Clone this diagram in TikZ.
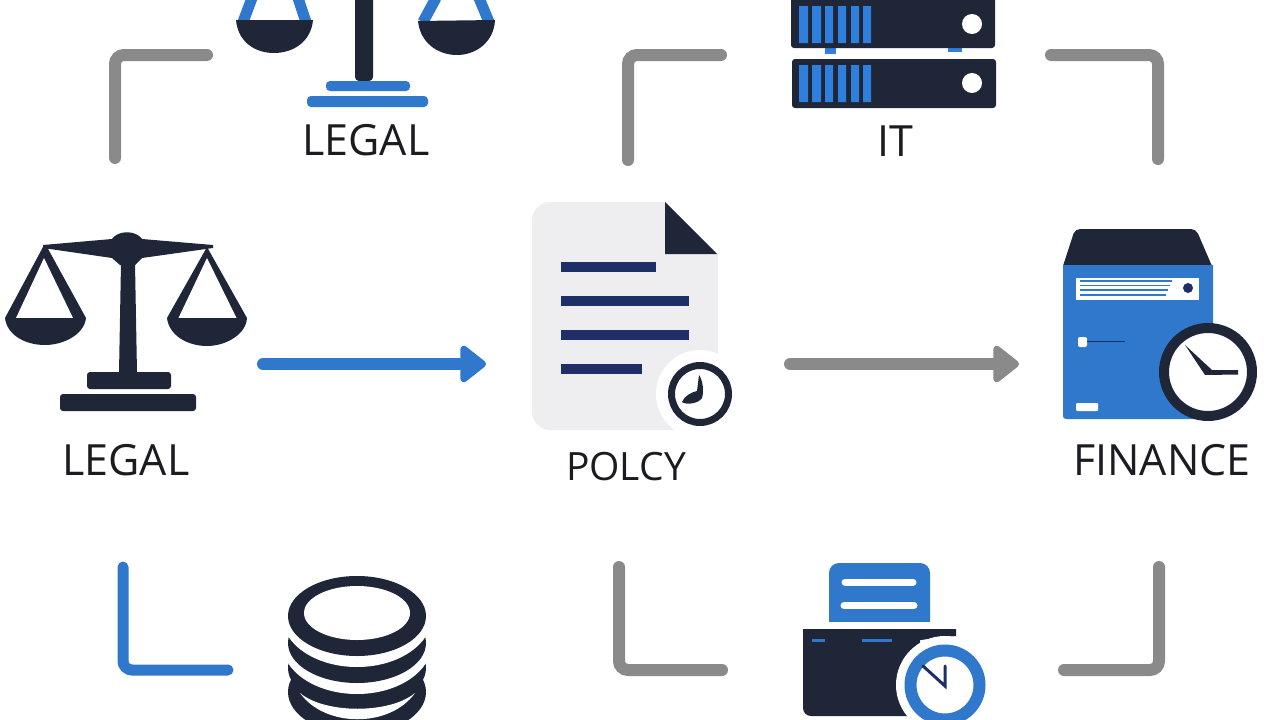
\documentclass[tikz,border=0pt]{standalone}
\usepackage{fontspec}
\setmainfont{Open Sans}
\usetikzlibrary{arrows.meta}
\definecolor{inkdark}{HTML}{1F2638}
\definecolor{captionink}{HTML}{1A1C22}
\definecolor{iconblue}{HTML}{2F78CC}
\definecolor{barblue}{HTML}{2E80DC}
\definecolor{linegray}{HTML}{8A8A8A}
\definecolor{pagegray}{HTML}{EEEEF0}
\definecolor{textnavy}{HTML}{1D2F66}
\tikzset{
    captext/.style={inner sep=0pt, text=captionink, font=\fontsize{39}{40}\selectfont},
    capwide/.style={inner sep=0pt, text=captionink, font=\fontsize{43}{44}\selectfont},
    bracketgray/.style={draw=linegray, line width=12pt, line cap=round, rounded corners=9pt},
    bracketblue/.style={draw=iconblue, line width=11pt, line cap=round, rounded corners=9pt},
    flowblue/.style={draw=iconblue, line width=12pt, line cap=round, -{Triangle[length=28pt,width=42pt,round]}},
    flowgray/.style={draw=linegray, line width=12pt, line cap=round, -{Triangle[length=28pt,width=42pt,round]}},
    rodblue/.style={draw=iconblue, line width=11pt},
    doctext/.style={draw=textnavy, line width=9.5pt}
}
\begin{document}
\begin{tikzpicture}[x=1pt,y=-1pt]
    \path[use as bounding box, clip] (0,0) rectangle (1280,720);
    \fill[white] (0,0) rectangle (1280,720);

    \draw[rodblue] (252,-2) -- (243,22);
    \draw[rodblue] (298,-2) -- (306,22);
    \draw[rodblue] (436,-2) -- (423,22);
    \draw[rodblue] (479,-2) -- (489,22);
    \fill[inkdark] (236,20) -- (313,20) .. controls (311,42) and (293,53) .. (274,53) .. controls (255,53) and (238,42) .. (236,20) -- cycle;
    \fill[inkdark] (418,21) -- (495,20) .. controls (494,42) and (476,55) .. (457,55) .. controls (437,55) and (420,42) .. (418,21) -- cycle;
    \fill[inkdark, rounded corners=4pt] (355,-10) rectangle (373,81);
    \fill[iconblue, rounded corners=4pt] (326,81) rectangle (410,91);
    \fill[iconblue, rounded corners=4pt] (307,96) rectangle (428,107);
    \node[capwide] (legaltop) at (366,140) {LEGAL};

    \fill[inkdark] (43,247) -- (5,318) -- (86,318) -- (47,247) -- cycle;
    \fill[white] (44,258) -- (16,318) -- (73,318) -- cycle;
    \fill[inkdark] (207,247) -- (167,318) -- (247,318) -- cycle;
    \fill[white] (207,258) -- (178,319) -- (237,319) -- cycle;
    \fill[inkdark] (5,318) -- (86,318) .. controls (84,335) and (63,345) .. (45,345) .. controls (25,345) and (7,335) .. (5,318) -- cycle;
    \fill[inkdark] (167,318) -- (247,318) .. controls (246,335) and (225,346) .. (207,346) .. controls (187,346) and (169,335) .. (167,318) -- cycle;
    \fill[inkdark] (43,245) -- (112,239) .. controls (118,230) and (136,230) .. (142,239) -- (213,245) -- (213,248) -- (142,258) -- (135,265) -- (120,265) -- (112,258) -- (43,248) -- cycle;
    \fill[inkdark] (121,263) -- (135,263) -- (137,373) -- (119,373) -- cycle;
    \fill[inkdark, rounded corners=3pt] (87,372) rectangle (171,389);
    \fill[inkdark, rounded corners=3pt] (60,394) rectangle (196,411);
    \node[capwide] (legalmain) at (126,460) {LEGAL};

    \fill[pagegray] (550,202) -- (665,202) -- (718,254) -- (718,412) [rounded corners=18pt] -- (718,430) -- (532,430) -- (532,202) [sharp corners] -- cycle;
    \fill[inkdark] (665,202) -- (717,254) -- (665,254) -- cycle;
    \draw[doctext] (561,267) -- (656,267);
    \draw[doctext] (561,301) -- (689,301);
    \draw[doctext] (561,335) -- (689,335);
    \draw[doctext] (561,369) -- (642,369);
    \fill[white] (700,394) circle (44);
    \draw[inkdark, line width=7pt] (700,394) circle (28.5);
    \fill[inkdark] (699,375) .. controls (703,380) and (704,392) .. (702,398) .. controls (698,404) and (686,405) .. (682,402) .. controls (684,396) and (692,392) .. (697,391) -- cycle;
    \node[captext] (policy) at (626,467) {POLCY};

    \fill[inkdark] (1063,266) [rounded corners=5pt] -- (1075,229) -- (1196,229) [sharp corners] -- (1212,266) -- cycle;
    \fill[iconblue] (1063,265) -- (1213,265) [rounded corners=3pt] -- (1213,419) -- (1063,419) [sharp corners] -- cycle;
    \fill[white] (1076,278) rectangle (1199,300);
    \draw[iconblue, line width=1.5pt] (1080,281) -- (1172,281);
    \draw[iconblue, line width=1.5pt] (1080,285.5) -- (1170,285.5);
    \draw[iconblue, line width=1.5pt] (1080,290) -- (1168,290);
    \draw[iconblue, line width=1.5pt] (1080,295) -- (1166,295);
    \fill[textnavy] (1188,288) circle (5);
    \fill[white, rounded corners=2pt] (1078,337) rectangle (1087,347);
    \draw[textnavy, line width=1.5pt] (1087,341.5) -- (1125,341.5);
    \fill[white, rounded corners=1pt] (1076,403) rectangle (1098,411);
    \draw[inkdark, line width=10pt, fill=white] (1208,372) circle (44);
    \fill[inkdark] (1185,345) -- (1212,370) -- (1238,370) -- (1238,374.5) -- (1205,375) -- cycle;
    \node[capwide] (finance) at (1162,460) {FINANCE};

    \fill[barblue] (825,48) rectangle (836,54);
    \fill[barblue] (948,48) rectangle (962,52);
    \fill[inkdark, rounded corners=3pt] (791,-10) rectangle (995,48);
    \fill[inkdark, rounded corners=3pt] (792,59) rectangle (996,108);
    \fill[barblue] (799,6) rectangle (808,43) (812,6) rectangle (821,43) (825,6) rectangle (833,43) (838,6) rectangle (846,43) (851,6) rectangle (859,43) (863,6) rectangle (871,43);
    \fill[barblue] (799,65) rectangle (808,102) (812,65) rectangle (821,102) (825,65) rectangle (833,102) (838,65) rectangle (846,102) (851,65) rectangle (859,102) (863,65) rectangle (871,102);
    \fill[white] (972,24) circle (10);
    \fill[white] (972,83) circle (10);
    \node[capwide] (infotech) at (895,141) {IT};

    \fill[inkdark] (357,692) ellipse (69 and 42);
    \fill[inkdark] (357,668) ellipse (69 and 40);
    \fill[white] (300,693) .. controls (325,714) and (390,714) .. (415,693) .. controls (390,728) and (325,728) .. (300,693) -- cycle;
    \fill[white] (357,643) ellipse (75 and 51);
    \fill[inkdark] (357,643) ellipse (69 and 40);
    \fill[white] (357,616) ellipse (75 and 51);
    \fill[inkdark] (357,616) ellipse (69 and 40);
    \fill[white] (357,613) ellipse (53 and 27);

    \fill[iconblue, rounded corners=10pt] (829,640) -- (829,563) -- (930,563) -- (930,640) -- cycle;
    \fill[white] (825,622) rectangle (935,629);
    \draw[white, line width=7pt, line cap=round] (845,582) -- (913,582);
    \draw[white, line width=7pt, line cap=round] (844,605.5) -- (914,605.5);
    \fill[inkdark] (803,629) -- (956,629) -- (956,636) -- (920,640) -- (920,716) [rounded corners=8pt] -- (803,716) [sharp corners] -- cycle;
    \draw[iconblue, line width=3pt] (812,640) -- (825,640);
    \draw[iconblue, line width=3pt] (862,640) -- (892,640);
    \fill[white] (945,685) circle (49);
    \draw[iconblue, line width=12pt, fill=white] (945,685) circle (34.5);
    \draw[textnavy, line width=3pt, line cap=round] (923,666) -- (945,686) -- (945,666);

    \coordinate (legalout) at (263,364);
    \coordinate (policyin) at (486,364);
    \coordinate (policyout) at (790,364);
    \coordinate (financein) at (1019,364);
    \draw[flowblue] (legalout) -- (policyin);
    \draw[flowgray] (policyout) -- (financein);

    \coordinate (tlstart) at (115,158);
    \coordinate (tlcorner) at (115,55);
    \coordinate (tlend) at (207,55);
    \draw[bracketgray] (tlstart) -- (tlcorner) -- (tlend);
    \coordinate (tmstart) at (628,160);
    \coordinate (tmcorner) at (628,55);
    \coordinate (tmend) at (721,55);
    \draw[bracketgray] (tmstart) -- (tmcorner) -- (tmend);
    \coordinate (trstart) at (1051,55);
    \coordinate (trcorner) at (1158,55);
    \coordinate (trend) at (1158,159);
    \draw[bracketgray] (trstart) -- (trcorner) -- (trend);
    \coordinate (blstart) at (123,567);
    \coordinate (blcorner) at (123,670);
    \coordinate (blend) at (228,670);
    \draw[bracketblue] (blstart) -- (blcorner) -- (blend);
    \coordinate (bmstart) at (619,567);
    \coordinate (bmcorner) at (619,670);
    \coordinate (bmend) at (722,670);
    \draw[bracketgray] (bmstart) -- (bmcorner) -- (bmend);
    \coordinate (brstart) at (1159,567);
    \coordinate (brcorner) at (1159,670);
    \coordinate (brend) at (1064,670);
    \draw[bracketgray] (brstart) -- (brcorner) -- (brend);
\end{tikzpicture}
\end{document}
